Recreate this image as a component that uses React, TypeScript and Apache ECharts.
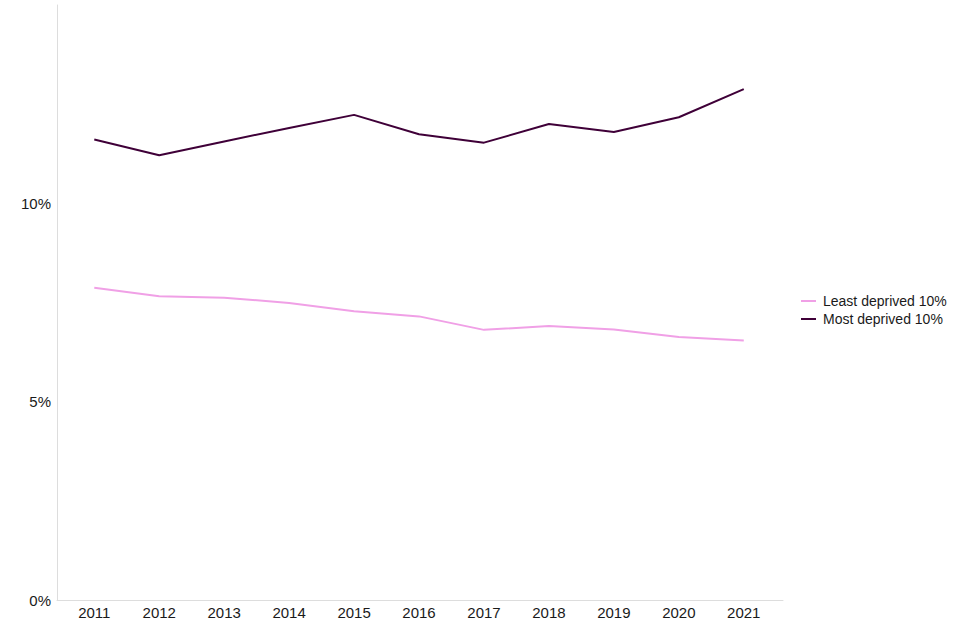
import React, { useEffect, useRef } from "react";
import * as echarts from "echarts";

const years = [2011, 2012, 2013, 2014, 2015, 2016, 2017, 2018, 2019, 2020, 2021];
const leastDeprived = [7.87, 7.66, 7.62, 7.49, 7.28, 7.15, 6.81, 6.91, 6.82, 6.63, 6.54];
const mostDeprived = [11.61, 11.21, 11.56, 11.9, 12.23, 11.74, 11.53, 12.0, 11.8, 12.17, 12.88];
const seriesNames = ["Least deprived 10%", "Most deprived 10%"];
const yTicks = [0, 5, 10];

const FONT = "'Liberation Sans', Arial, sans-serif";

export default function App() {
  const ref = useRef<HTMLDivElement>(null);
  useEffect(() => {
    if (!ref.current) return;
    const chart = echarts.init(ref.current, undefined, { renderer: "svg" });
    chart.setOption({
      animation: false,
      backgroundColor: "#ffffff",
      textStyle: { fontFamily: FONT },
      grid: { left: 57, right: 177, top: 5, bottom: 40, containLabel: false },
      xAxis: {
        type: "value",
        min: 2010.426,
        max: 2021.604,
        axisLine: { show: true, lineStyle: { color: "#dddddd", width: 1 } },
        axisTick: { show: false },
        splitLine: { show: false },
        axisLabel: {
          customValues: years,
          color: "#1a1a1a",
          fontSize: 15,
          fontFamily: FONT,
          margin: 5,
          formatter: (v: number) => String(Math.round(v)),
        },
      },
      yAxis: {
        type: "value",
        min: 0,
        max: 15,
        interval: 5,
        axisLine: { show: true, lineStyle: { color: "#dddddd", width: 1 } },
        axisTick: { show: false },
        splitLine: { show: false },
        axisLabel: {
          customValues: yTicks,
          color: "#1a1a1a",
          fontSize: 15,
          fontFamily: FONT,
          margin: 6,
          formatter: "{value}%",
        },
      },
      legend: {
        orient: "vertical",
        left: 796,
        top: 288,
        icon: "rect",
        itemWidth: 15,
        itemHeight: 2,
        itemGap: 2,
        textStyle: { fontSize: 14, color: "#1a1a1a", fontFamily: FONT, lineHeight: 16, padding: [0, 0, 0, 2] },
        data: seriesNames,
      },
      series: [
        {
          name: seriesNames[0],
          type: "line",
          symbol: "none",
          color: "#f0a0e6",
          lineStyle: { width: 2, color: "#f0a0e6" },
          data: years.map((y, i) => [y, leastDeprived[i]]),
        },
        {
          name: seriesNames[1],
          type: "line",
          symbol: "none",
          color: "#3f0038",
          lineStyle: { width: 2, color: "#3f0038" },
          data: years.map((y, i) => [y, mostDeprived[i]]),
        },
      ],
    });
    return () => chart.dispose();
  }, []);
  return <div ref={ref} style={{ width: 960, height: 640, position: "absolute", left: 0, top: 0 }} />;
}
